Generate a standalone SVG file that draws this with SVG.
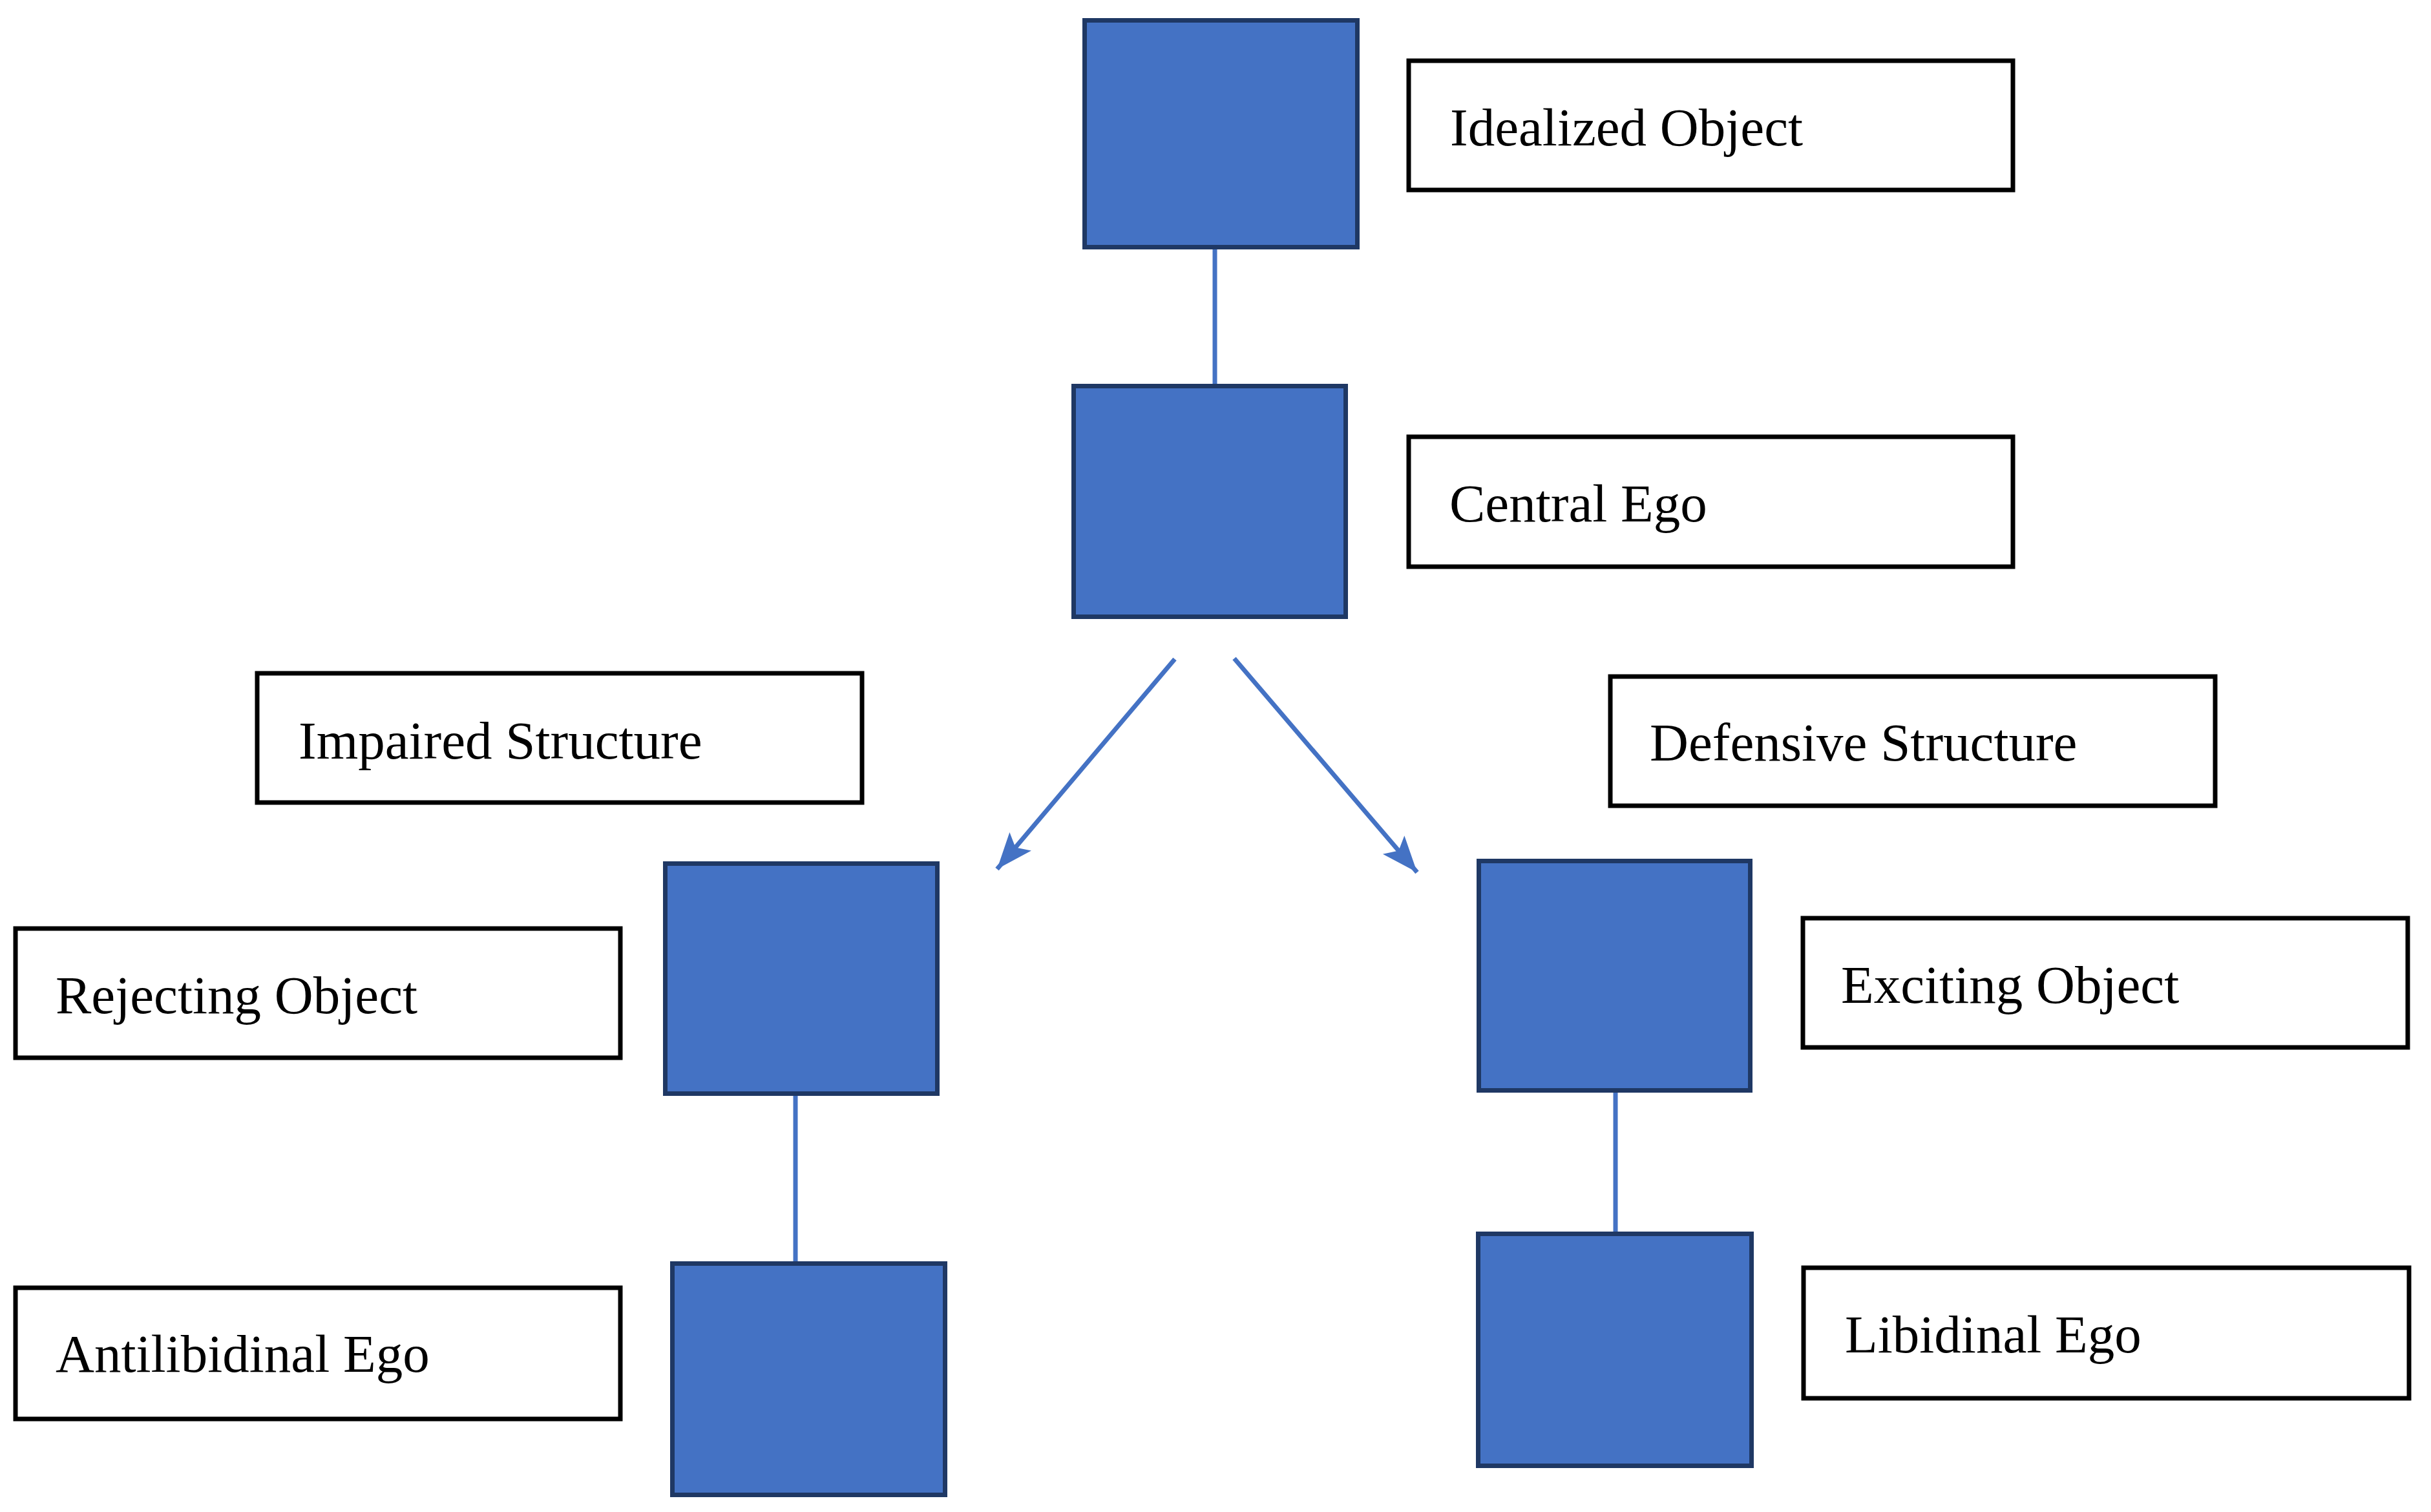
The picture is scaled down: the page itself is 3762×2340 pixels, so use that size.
<svg xmlns="http://www.w3.org/2000/svg" width="3762" height="2340" viewBox="0 0 3762 2340">
<style>
.blk{fill:#4472C4;stroke:#1F3864;stroke-width:7}
.lbl{fill:#FFFFFF;stroke:#000000;stroke-width:7}
.txt{font-family:"Liberation Serif","Times New Roman",serif;font-size:83px;fill:#000000}
.con{stroke:#4472C4;stroke-width:7;fill:none}
</style>
<defs>
<marker id="arr" markerUnits="userSpaceOnUse" markerWidth="64" markerHeight="48" refX="56" refY="22" orient="auto">
<path d="M0,0 L56,22 L0,44 L12,22 Z" fill="#4472C4"/>
</marker>
</defs>
<rect width="3762" height="2340" fill="#FFFFFF"/>
<g id="connectors">
<line class="con" x1="1880" y1="386" x2="1880" y2="595"/>
<line class="con" x1="1231" y1="1696" x2="1231" y2="1953"/>
<line class="con" x1="2500" y1="1691" x2="2500" y2="1907"/>
<line class="con" x1="1818" y1="1020" x2="1543" y2="1345" marker-end="url(#arr)"/>
<line class="con" x1="1910" y1="1019" x2="2193" y2="1350" marker-end="url(#arr)"/>
</g>
<g id="idealized-box"><rect class="blk" x="1678.5" y="31.5" width="422" height="351"/></g>
<g id="idealized-label"><rect class="lbl" x="2180" y="94" width="935" height="200"/><text class="txt" x="2244" y="225">Idealized Object</text></g>
<g id="central-box"><rect class="blk" x="1661.5" y="597.5" width="421" height="357"/></g>
<g id="central-label"><rect class="lbl" x="2180" y="676" width="935" height="201"/><text class="txt" x="2243" y="807">Central Ego</text></g>
<g id="impaired-label"><rect class="lbl" x="398" y="1042" width="936" height="200"/><text class="txt" x="462" y="1174">Impaired Structure</text></g>
<g id="defensive-label"><rect class="lbl" x="2492" y="1047" width="936" height="200"/><text class="txt" x="2553" y="1177">Defensive Structure</text></g>
<g id="rejecting-label"><rect class="lbl" x="24" y="1437" width="936" height="200"/><text class="txt" x="86" y="1568">Rejecting Object</text></g>
<g id="rejecting-box"><rect class="blk" x="1029.5" y="1336.5" width="421" height="356"/></g>
<g id="exciting-box"><rect class="blk" x="2288.5" y="1332.5" width="420" height="355"/></g>
<g id="exciting-label"><rect class="lbl" x="2790" y="1421" width="936" height="200"/><text class="txt" x="2849" y="1552">Exciting Object</text></g>
<g id="antilibidinal-label"><rect class="lbl" x="24" y="1993" width="936" height="203"/><text class="txt" x="86" y="2123">Antilibidinal Ego</text></g>
<g id="antilibidinal-box"><rect class="blk" x="1040.5" y="1955.5" width="422" height="358"/></g>
<g id="libidinal-box"><rect class="blk" x="2287.5" y="1909.5" width="423" height="359"/></g>
<g id="libidinal-label"><rect class="lbl" x="2791" y="1962" width="937" height="202"/><text class="txt" x="2855" y="2093">Libidinal Ego</text></g>
</svg>
